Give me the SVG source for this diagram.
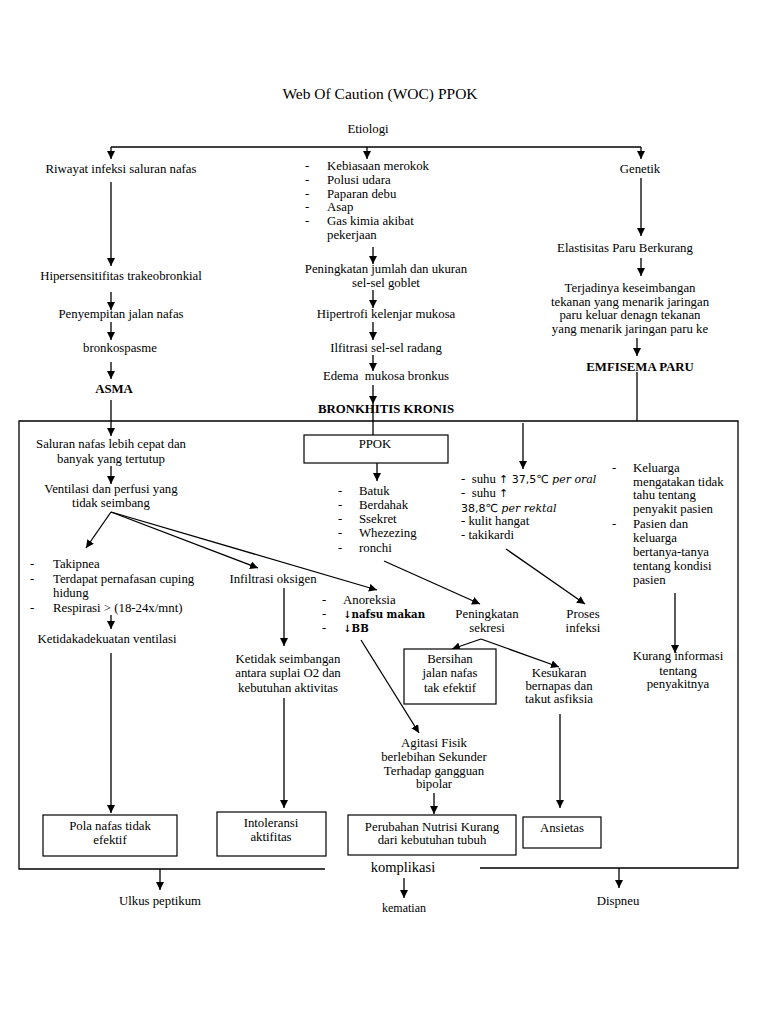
<svg xmlns="http://www.w3.org/2000/svg" width="768" height="1024" viewBox="0 0 768 1024">
<defs>
<marker id="ah" markerUnits="userSpaceOnUse" markerWidth="8" markerHeight="8" refX="8" refY="4" orient="auto">
<path d="M0,0 L8,4 L0,8 z" fill="#000"/>
</marker>
<style>
text{font-family:"Liberation Serif","Times New Roman",serif;font-size:12.8px;fill:#000}
.c{text-anchor:middle}
.b{font-weight:bold}
.t{font-size:15.5px}
.k{font-size:14.5px}
.m{font-family:"DejaVu Sans",sans-serif;font-size:11px}
.mi{font-family:"DejaVu Serif",serif;font-style:italic;font-size:11px}
.ms{font-family:"DejaVu Serif",serif;font-size:10.2px;font-weight:bold}
.box{fill:#fff;stroke:#000;stroke-width:1.2}
.ln{stroke:#000;stroke-width:1.3;fill:none}
.ar{stroke:#000;stroke-width:1.3;fill:none;marker-end:url(#ah)}
</style>
</defs>
<rect width="768" height="1024" fill="#fff"/>

<g id="connectors">
<polyline class="ln" points="325,869 19,869 19,421 738,421 738,868 480,868"/>
<line class="ln" x1="111" y1="147" x2="641" y2="147"/>
<line class="ar" x1="111" y1="147" x2="111" y2="159"/>
<line class="ar" x1="367" y1="147" x2="367" y2="159"/>
<line class="ar" x1="641" y1="147" x2="641" y2="159"/>
<line class="ar" x1="111" y1="182" x2="111" y2="266"/>
<line class="ar" x1="111" y1="292" x2="111" y2="310"/>
<line class="ar" x1="111" y1="322" x2="111" y2="340"/>
<line class="ar" x1="111" y1="362" x2="111" y2="379"/>
<line class="ar" x1="111" y1="400" x2="111" y2="436"/>
<line class="ar" x1="111" y1="466" x2="111" y2="484"/>
<line class="ar" x1="111" y1="512" x2="86" y2="548"/>
<line class="ar" x1="111" y1="512" x2="258" y2="568"/>
<line class="ar" x1="111" y1="512" x2="377" y2="590"/>
<line class="ar" x1="111" y1="615" x2="111" y2="629"/>
<line class="ar" x1="111" y1="653" x2="111" y2="813"/>
<line class="ar" x1="284" y1="588" x2="284" y2="646"/>
<line class="ar" x1="284" y1="698" x2="284" y2="808"/>
<line class="ar" x1="373" y1="247" x2="373" y2="264"/>
<line class="ar" x1="373" y1="290" x2="373" y2="308"/>
<line class="ar" x1="373" y1="322" x2="373" y2="340"/>
<line class="ar" x1="373" y1="355" x2="373" y2="371"/>
<line class="ar" x1="373" y1="385" x2="373" y2="404"/>
<line class="ln" x1="373" y1="404" x2="373" y2="435"/>
<line class="ar" x1="377" y1="463" x2="377" y2="481"/>
<line class="ar" x1="641" y1="178" x2="641" y2="236"/>
<line class="ar" x1="641" y1="258" x2="641" y2="276"/>
<line class="ar" x1="637" y1="338" x2="637" y2="356"/>
<line class="ln" x1="637" y1="372" x2="637" y2="421"/>
<line class="ar" x1="523" y1="423" x2="523" y2="469"/>
<line class="ar" x1="384" y1="561" x2="480" y2="604"/>
<line class="ar" x1="506" y1="549" x2="585" y2="604"/>
<line class="ar" x1="361" y1="640" x2="419" y2="733"/>
<line class="ar" x1="481" y1="639" x2="452" y2="649"/>
<line class="ar" x1="481" y1="639" x2="559" y2="667"/>
<line class="ar" x1="560" y1="714" x2="560" y2="808"/>
<line class="ar" x1="434" y1="793" x2="434" y2="814"/>
<line class="ar" x1="675" y1="593" x2="675" y2="653"/>
<line class="ar" x1="160" y1="869" x2="160" y2="890"/>
<line class="ar" x1="404" y1="878" x2="404" y2="898"/>
<line class="ar" x1="619" y1="868" x2="619" y2="888"/>
</g>

<g id="title"><text class="c t" x="380" y="99">Web Of Caution (WOC) PPOK</text></g>
<g id="etiologi"><text class="c" x="368" y="133">Etiologi</text></g>

<g id="riwayat"><text class="c" x="121" y="173">Riwayat infeksi saluran nafas</text></g>
<g id="hipersensitifitas"><text class="c" x="121" y="280">Hipersensitifitas trakeobronkial</text></g>
<g id="penyempitan"><text class="c" x="121" y="318">Penyempitan jalan nafas</text></g>
<g id="bronkospasme"><text class="c" x="120" y="352">bronkospasme</text></g>
<g id="asma"><text class="c b" x="114" y="393">ASMA</text></g>

<g id="faktor">
<text x="305" y="170">-</text><text x="327" y="170">Kebiasaan merokok</text>
<text x="305" y="184">-</text><text x="327" y="184">Polusi udara</text>
<text x="305" y="198">-</text><text x="327" y="198">Paparan debu</text>
<text x="305" y="211">-</text><text x="327" y="211">Asap</text>
<text x="305" y="225">-</text><text x="327" y="225">Gas kimia akibat</text>
<text x="327" y="239">pekerjaan</text>
</g>
<g id="peningkatan-goblet"><text class="c" x="386" y="273">Peningkatan jumlah dan ukuran</text><text class="c" x="386" y="287">sel-sel goblet</text></g>
<g id="hipertrofi"><text class="c" x="386" y="318">Hipertrofi kelenjar mukosa</text></g>
<g id="ilfitrasi"><text class="c" x="386" y="352">Ilfitrasi sel-sel radang</text></g>
<g id="edema"><text class="c" x="386" y="380" xml:space="preserve">Edema  mukosa bronkus</text></g>
<g id="bronkhitis"><text class="c b" x="386" y="413">BRONKHITIS KRONIS</text></g>

<g id="genetik"><text class="c" x="640" y="173">Genetik</text></g>
<g id="elastisitas"><text class="c" x="625" y="252">Elastisitas Paru Berkurang</text></g>
<g id="terjadinya">
<text class="c" x="630" y="292">Terjadinya keseimbangan</text>
<text class="c" x="630" y="306">tekanan yang menarik jaringan</text>
<text class="c" x="630" y="319">paru keluar denagn tekanan</text>
<text class="c" x="630" y="333">yang menarik jaringan paru ke</text>
</g>
<g id="emfisema"><text class="c b" x="640" y="371">EMFISEMA PARU</text></g>

<g id="ppok"><rect class="box" x="304" y="435" width="144" height="28"/><text class="c" x="375" y="448">PPOK</text></g>

<g id="saluran"><text class="c" x="111" y="448">Saluran nafas lebih cepat dan</text><text class="c" x="111" y="463">banyak yang tertutup</text></g>
<g id="ventilasi"><text class="c" x="111" y="493">Ventilasi dan perfusi yang</text><text class="c" x="111" y="507">tidak seimbang</text></g>
<g id="takipnea">
<text x="30" y="568">-</text><text x="53" y="568">Takipnea</text>
<text x="30" y="583">-</text><text x="53" y="583">Terdapat pernafasan cuping</text>
<text x="53" y="597">hidung</text>
<text x="30" y="612">-</text><text x="53" y="612">Respirasi &gt; (18-24x/mnt)</text>
</g>
<g id="ketidakadekuatan"><text class="c" x="107" y="643">Ketidakadekuatan ventilasi</text></g>
<g id="infiltrasi"><text class="c" x="273" y="583">Infiltrasi oksigen</text></g>
<g id="ketidak-seimbangan">
<text class="c" x="288" y="663">Ketidak seimbangan</text>
<text class="c" x="288" y="677">antara suplai O2 dan</text>
<text class="c" x="288" y="692">kebutuhan aktivitas</text>
</g>

<g id="gejala">
<text x="338" y="495">-</text><text x="359" y="495">Batuk</text>
<text x="338" y="509">-</text><text x="359" y="509">Berdahak</text>
<text x="338" y="523">-</text><text x="359" y="523">Ssekret</text>
<text x="338" y="537">-</text><text x="359" y="537">Whezezing</text>
<text x="338" y="552">-</text><text x="359" y="552">ronchi</text>
</g>

<g id="demam">
<text x="461" y="483" xml:space="preserve">-  suhu <tspan class="m">↑ 37,5℃ </tspan><tspan class="mi">per oral</tspan></text>
<text x="461" y="497" xml:space="preserve">-  suhu <tspan class="m">↑</tspan></text>
<text x="461" y="512"><tspan class="m">38,8℃ </tspan><tspan class="mi">per rektal</tspan></text>
<text x="461" y="525">- kulit hangat</text>
<text x="461" y="539">- takikardi</text>
</g>

<g id="keluarga">
<text x="612" y="472">-</text><text x="633" y="472">Keluarga</text>
<text x="633" y="486">mengatakan tidak</text>
<text x="633" y="499">tahu tentang</text>
<text x="633" y="513">penyakit pasien</text>
<text x="612" y="528">-</text><text x="633" y="528">Pasien dan</text>
<text x="633" y="542">keluarga</text>
<text x="633" y="556">bertanya-tanya</text>
<text x="633" y="570">tentang kondisi</text>
<text x="633" y="584">pasien</text>
</g>
<g id="kurang-informasi">
<text class="c" x="678" y="660">Kurang informasi</text>
<text class="c" x="678" y="675">tentang</text>
<text class="c" x="678" y="688">penyakitnya</text>
</g>

<g id="anoreksia">
<text x="322" y="604">-</text><text x="343" y="604">Anoreksia</text>
<text x="322" y="618">-</text><text class="ms" x="343" y="618">↓nafsu makan</text>
<text x="322" y="632">-</text><text class="ms" x="343" y="632">↓BB</text>
</g>

<g id="peningkatan-sekresi"><text class="c" x="487" y="618">Peningkatan</text><text class="c" x="487" y="632">sekresi</text></g>
<g id="proses-infeksi"><text class="c" x="583" y="618">Proses</text><text class="c" x="583" y="632">infeksi</text></g>

<g id="bersihan"><rect class="box" x="404" y="649" width="92" height="55"/>
<text class="c" x="450" y="663">Bersihan</text><text class="c" x="450" y="677">jalan nafas</text><text class="c" x="450" y="692">tak efektif</text></g>
<g id="kesukaran"><text class="c" x="559" y="677">Kesukaran</text><text class="c" x="559" y="690">bernapas dan</text><text class="c" x="559" y="703">takut asfiksia</text></g>

<g id="agitasi">
<text class="c" x="434" y="747">Agitasi Fisik</text>
<text class="c" x="434" y="761">berlebihan Sekunder</text>
<text class="c" x="434" y="775">Terhadap gangguan</text>
<text class="c" x="434" y="788">bipolar</text>
</g>

<g id="pola"><rect class="box" x="43" y="815" width="134" height="41"/><text class="c" x="110" y="830">Pola nafas tidak</text><text class="c" x="110" y="844">efektif</text></g>
<g id="intoleransi"><rect class="box" x="217" y="812" width="109" height="44"/><text class="c" x="271" y="827">Intoleransi</text><text class="c" x="271" y="841">aktifitas</text></g>
<g id="perubahan"><rect class="box" x="348" y="815" width="168" height="40"/><text class="c" x="432" y="831">Perubahan Nutrisi Kurang</text><text class="c" x="432" y="844">dari kebutuhan tubuh</text></g>
<g id="ansietas"><rect class="box" x="523" y="817" width="78" height="31"/><text class="c" x="562" y="832">Ansietas</text></g>

<g id="komplikasi"><text class="c k" x="403" y="872">komplikasi</text></g>
<g id="ulkus"><text class="c" x="160" y="905">Ulkus peptikum</text></g>
<g id="kematian"><text class="c" x="404" y="912" style="font-size:12px">kematian</text></g>
<g id="dispneu"><text class="c" x="618" y="905">Dispneu</text></g>
</svg>
